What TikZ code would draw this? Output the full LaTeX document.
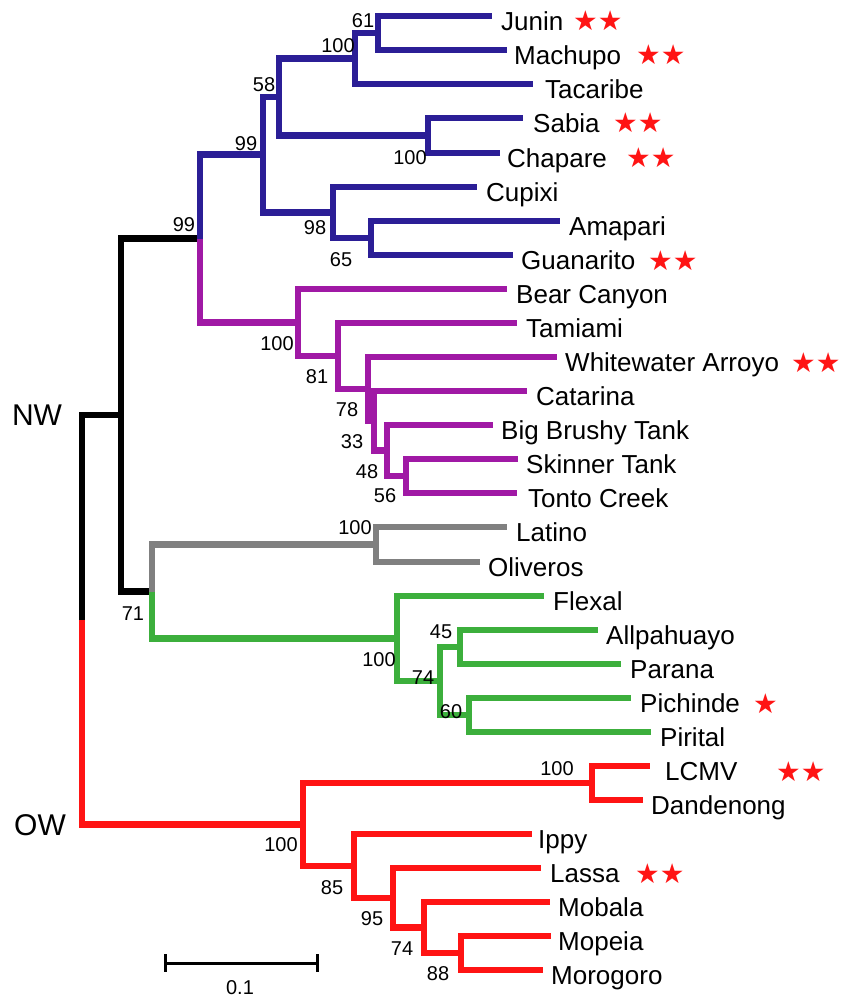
\documentclass[tikz,border=0pt]{standalone}
\usepackage{fontspec}
\setmainfont{Liberation Sans}
\newfontfamily\starfont{DejaVu Sans}
\definecolor{nwblue}{RGB}{43,30,150}
\definecolor{nwpurple}{RGB}{160,25,165}
\definecolor{nwgray}{RGB}{128,128,128}
\definecolor{nwgreen}{RGB}{60,175,60}
\definecolor{owred}{RGB}{255,20,20}
\tikzset{
	branch/.style={line width=6.5pt},
	leaf/.style={anchor=base west, inner sep=0pt, font=\fontsize{26}{30}\selectfont},
	boot/.style={inner sep=0pt, font=\fontsize{20}{24}\selectfont},
	clade/.style={inner sep=0pt, font=\fontsize{30}{36}\selectfont},
	stars/.style={anchor=base west, inner sep=0pt, text=owred, font=\starfont\fontsize{27.5}{30}\selectfont}
}
\begin{document}
\begin{tikzpicture}[x=1pt, y=-1pt]
	\useasboundingbox (0,0) rectangle (848,1000);
	\coordinate (junin) at (492,16);
	\coordinate (machupo) at (507,50);
	\coordinate (tacaribe) at (533,84);
	\coordinate (sabia) at (523,118);
	\coordinate (chapare) at (500,153);
	\coordinate (cupixi) at (477,187);
	\coordinate (amapari) at (560,221);
	\coordinate (guanarito) at (513,255);
	\coordinate (bearcanyon) at (507,289);
	\coordinate (tamiami) at (517,323);
	\coordinate (whitewater) at (557,357);
	\coordinate (catarina) at (527,391);
	\coordinate (bigbrushy) at (493,425);
	\coordinate (skinner) at (518,459);
	\coordinate (tonto) at (517,493);
	\coordinate (latino) at (507,527);
	\coordinate (oliveros) at (480,562);
	\coordinate (flexal) at (544,596);
	\coordinate (allpahuayo) at (598,630);
	\coordinate (parana) at (621,664);
	\coordinate (pichinde) at (631,698);
	\coordinate (pirital) at (651,732);
	\coordinate (lcmv) at (650,766);
	\coordinate (dandenong) at (643,800);
	\coordinate (ippy) at (532,834);
	\coordinate (lassa) at (541,868);
	\coordinate (mobala) at (550,902);
	\coordinate (mopeia) at (551,936);
	\coordinate (morogoro) at (543,970);

	\coordinate (n61) at (378,33);
	\coordinate (n100a) at (355,58.5);
	\coordinate (n100b) at (428,135.5);
	\coordinate (n58) at (279,97);
	\coordinate (n65) at (371,238);
	\coordinate (n98) at (333,212.5);
	\coordinate (n99b) at (263,154.75);
	\coordinate (n56) at (406,476);
	\coordinate (n48) at (387,450.5);
	\coordinate (n33) at (374,420.75);
	\coordinate (n78) at (368,388.9);
	\coordinate (n81) at (338,355.9);
	\coordinate (n100m) at (298,322.4);
	\coordinate (n99a) at (200,238.6);
	\coordinate (n100g) at (376,544.5);
	\coordinate (n45) at (460,647);
	\coordinate (n60) at (469,715);
	\coordinate (n74g) at (440,681);
	\coordinate (n100f) at (397,638.5);
	\coordinate (n71) at (152,591.5);
	\coordinate (nw) at (121,415);
	\coordinate (n88) at (461,953);
	\coordinate (n74r) at (424,927.5);
	\coordinate (n95) at (393,897.75);
	\coordinate (n85) at (354,865.9);
	\coordinate (n100l) at (592,783);
	\coordinate (n100r) at (303,824.4);
	\coordinate (root) at (82,619.7);

	\draw[branch] (root) |- (nw);
	\draw[branch, owred] (root) |- (n100r);
	\draw[branch] (nw) |- (n99a);
	\draw[branch] (nw) |- (n71);

	\draw[branch, nwblue] (n99a) |- (n99b);
	\draw[branch, nwblue] (n99b) |- (n58);
	\draw[branch, nwblue] (n99b) |- (n98);
	\draw[branch, nwblue] (n58) |- (n100a);
	\draw[branch, nwblue] (n58) |- (n100b);
	\draw[branch, nwblue] (n100a) |- (n61);
	\draw[branch, nwblue] (n100a) |- (tacaribe);
	\draw[branch, nwblue] (n61) |- (junin);
	\draw[branch, nwblue] (n61) |- (machupo);
	\draw[branch, nwblue] (n100b) |- (sabia);
	\draw[branch, nwblue] (n100b) |- (chapare);
	\draw[branch, nwblue] (n98) |- (cupixi);
	\draw[branch, nwblue] (n98) |- (n65);
	\draw[branch, nwblue] (n65) |- (amapari);
	\draw[branch, nwblue] (n65) |- (guanarito);

	\draw[branch, nwpurple] (n99a) |- (n100m);
	\draw[branch, nwpurple] (n100m) |- (bearcanyon);
	\draw[branch, nwpurple] (n100m) |- (n81);
	\draw[branch, nwpurple] (n81) |- (tamiami);
	\draw[branch, nwpurple] (n81) |- (n78);
	\draw[branch, nwpurple] (n78) |- (whitewater);
	\draw[branch, nwpurple] (n78) |- (n33);
	\draw[branch, nwpurple] (n33) |- (catarina);
	\draw[branch, nwpurple] (n33) |- (n48);
	\draw[branch, nwpurple] (n48) |- (bigbrushy);
	\draw[branch, nwpurple] (n48) |- (n56);
	\draw[branch, nwpurple] (n56) |- (skinner);
	\draw[branch, nwpurple] (n56) |- (tonto);

	\draw[branch, nwgray] (n71) |- (n100g);
	\draw[branch, nwgray] (n100g) |- (latino);
	\draw[branch, nwgray] (n100g) |- (oliveros);

	\draw[branch, nwgreen] (n71) |- (n100f);
	\draw[branch, nwgreen] (n100f) |- (flexal);
	\draw[branch, nwgreen] (n100f) |- (n74g);
	\draw[branch, nwgreen] (n74g) |- (n45);
	\draw[branch, nwgreen] (n74g) |- (n60);
	\draw[branch, nwgreen] (n45) |- (allpahuayo);
	\draw[branch, nwgreen] (n45) |- (parana);
	\draw[branch, nwgreen] (n60) |- (pichinde);
	\draw[branch, nwgreen] (n60) |- (pirital);

	\draw[branch, owred] (n100r) |- (n100l);
	\draw[branch, owred] (n100r) |- (n85);
	\draw[branch, owred] (n100l) |- (lcmv);
	\draw[branch, owred] (n100l) |- (dandenong);
	\draw[branch, owred] (n85) |- (ippy);
	\draw[branch, owred] (n85) |- (n95);
	\draw[branch, owred] (n95) |- (lassa);
	\draw[branch, owred] (n95) |- (n74r);
	\draw[branch, owred] (n74r) |- (mobala);
	\draw[branch, owred] (n74r) |- (n88);
	\draw[branch, owred] (n88) |- (mopeia);
	\draw[branch, owred] (n88) |- (morogoro);

	\node[leaf] (junin-t) at ([xshift=9pt, yshift=-14.5pt]junin) {Junin};
	\node[leaf] (machupo-t) at ([xshift=7pt, yshift=-14.5pt]machupo) {Machupo};
	\node[leaf] (tacaribe-t) at ([xshift=12pt, yshift=-14.5pt]tacaribe) {Tacaribe};
	\node[leaf] (sabia-t) at ([xshift=10pt, yshift=-14.5pt]sabia) {Sabia};
	\node[leaf] (chapare-t) at ([xshift=7pt, yshift=-14.5pt]chapare) {Chapare};
	\node[leaf] (cupixi-t) at ([xshift=9pt, yshift=-14.5pt]cupixi) {Cupixi};
	\node[leaf] (amapari-t) at ([xshift=9pt, yshift=-14.5pt]amapari) {Amapari};
	\node[leaf] (guanarito-t) at ([xshift=8pt, yshift=-14.5pt]guanarito) {Guanarito};
	\node[leaf] (bearcanyon-t) at ([xshift=9pt, yshift=-14.5pt]bearcanyon) {Bear Canyon};
	\node[leaf] (tamiami-t) at ([xshift=9pt, yshift=-14.5pt]tamiami) {Tamiami};
	\node[leaf] (whitewater-t) at ([xshift=8pt, yshift=-14.5pt]whitewater) {Whitewater Arroyo};
	\node[leaf] (catarina-t) at ([xshift=9pt, yshift=-14.5pt]catarina) {Catarina};
	\node[leaf] (bigbrushy-t) at ([xshift=8pt, yshift=-14.5pt]bigbrushy) {Big Brushy Tank};
	\node[leaf] (skinner-t) at ([xshift=8pt, yshift=-14.5pt]skinner) {Skinner Tank};
	\node[leaf] (tonto-t) at ([xshift=11pt, yshift=-14.5pt]tonto) {Tonto Creek};
	\node[leaf] (latino-t) at ([xshift=9pt, yshift=-14.5pt]latino) {Latino};
	\node[leaf] (oliveros-t) at ([xshift=8pt, yshift=-14.5pt]oliveros) {Oliveros};
	\node[leaf] (flexal-t) at ([xshift=9pt, yshift=-14.5pt]flexal) {Flexal};
	\node[leaf] (allpahuayo-t) at ([xshift=8pt, yshift=-14.5pt]allpahuayo) {Allpahuayo};
	\node[leaf] (parana-t) at ([xshift=9pt, yshift=-14.5pt]parana) {Parana};
	\node[leaf] (pichinde-t) at ([xshift=9pt, yshift=-14.5pt]pichinde) {Pichinde};
	\node[leaf] (pirital-t) at ([xshift=9pt, yshift=-14.5pt]pirital) {Pirital};
	\node[leaf] (lcmv-t) at ([xshift=15pt, yshift=-14.5pt]lcmv) {LCMV};
	\node[leaf] (dandenong-t) at ([xshift=8pt, yshift=-14.5pt]dandenong) {Dandenong};
	\node[leaf] (ippy-t) at ([xshift=6pt, yshift=-14.5pt]ippy) {Ippy};
	\node[leaf] (lassa-t) at ([xshift=9pt, yshift=-14.5pt]lassa) {Lassa};
	\node[leaf] (mobala-t) at ([xshift=8pt, yshift=-14.5pt]mobala) {Mobala};
	\node[leaf] (mopeia-t) at ([xshift=7pt, yshift=-14.5pt]mopeia) {Mopeia};
	\node[leaf] (morogoro-t) at ([xshift=8pt, yshift=-14.5pt]morogoro) {Morogoro};

	\node[stars] (junin-s) at (573,31) {★★};
	\node[stars] (machupo-s) at (636,65) {★★};
	\node[stars] (sabia-s) at (613,133) {★★};
	\node[stars] (chapare-s) at (626,168) {★★};
	\node[stars] (guanarito-s) at (648,270) {★★};
	\node[stars] (whitewater-s) at (791,372) {★★};
	\node[stars] (pichinde-s) at (753,713) {★};
	\node[stars] (lcmv-s) at (776,781) {★★};
	\node[stars] (lassa-s) at (635,883) {★★};

	\node[boot] (b61) at (363,21) {61};
	\node[boot] (b100a) at (338,46) {100};
	\node[boot] (b58) at (264,85) {58};
	\node[boot] (b99b) at (246,144) {99};
	\node[boot] (b100b) at (410,158) {100};
	\node[boot] (b98) at (315,228) {98};
	\node[boot] (b65) at (341,260) {65};
	\node[boot] (b99a) at (184,225) {99};
	\node[boot] (b100m) at (277,344) {100};
	\node[boot] (b81) at (317,377) {81};
	\node[boot] (b78) at (347,410) {78};
	\node[boot] (b33) at (352,442) {33};
	\node[boot] (b48) at (367,472) {48};
	\node[boot] (b56) at (385,496) {56};
	\node[boot] (b100g) at (355,528) {100};
	\node[boot] (b71) at (133,614) {71};
	\node[boot] (b100f) at (379,660) {100};
	\node[boot] (b45) at (441,632) {45};
	\node[boot] (b74g) at (423,678) {74};
	\node[boot] (b60) at (451,712) {60};
	\node[boot] (b100l) at (557,769) {100};
	\node[boot] (b100r) at (281,845) {100};
	\node[boot] (b85) at (332,888) {85};
	\node[boot] (b95) at (372,919) {95};
	\node[boot] (b74r) at (402,949) {74};
	\node[boot] (b88) at (438,974) {88};

	\node[clade] (nw-t) at (37,415) {NW};
	\node[clade] (ow-t) at (40,825) {OW};

	\coordinate (barl) at (165,963);
	\coordinate (barr) at (317,963);
	\draw[line width=3pt] (barl) -- (barr);
	\draw[line width=3pt] ([yshift=9pt]barl) -- ([yshift=-9pt]barl);
	\draw[line width=3pt] ([yshift=9pt]barr) -- ([yshift=-9pt]barr);
	\node[boot] (bar-t) at (240,988) {0.1};
\end{tikzpicture}
\end{document}
